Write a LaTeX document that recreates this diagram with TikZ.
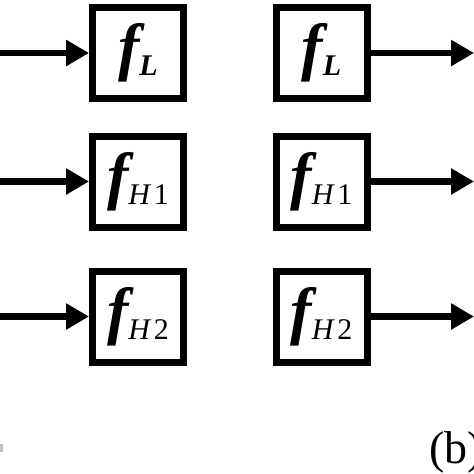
\documentclass[tikz,border=0pt]{standalone}
\usepackage{fontspec}
\setmainfont{Liberation Serif}
\usetikzlibrary{arrows.meta}
\tikzset{
  fbox/.style={draw, line width=7pt, minimum size=91pt, inner sep=0pt, outer sep=3.5pt, fill=white},
  flow/.style={line width=6.5pt, -{Triangle[length=23pt,width=25pt]}},
}
\newcommand{\fsym}{{\fontsize{64}{64}\selectfont\bfseries\itshape f}}
\newcommand{\fsub}[1]{\raisebox{-7pt}{\fontsize{30}{30}\selectfont #1}}
\begin{document}
\begin{tikzpicture}[x=1pt,y=-1pt]
\useasboundingbox (0,0) rectangle (474,474);
\clip (0,0) rectangle (474,474);
% boxes
\node[fbox] (aL) at (138,53) {\fsym\fsub{\bfseries\itshape L}};
\node[fbox] (a1) at (138,181.5) {\fsym\fsub{\itshape H\kern4pt\upshape 1}};
\node[fbox] (a2) at (138,316.5) {\fsym\fsub{\itshape H\kern4pt\upshape 2}};
\node[fbox] (bL) at (321.5,53) {\fsym\fsub{\bfseries\itshape L}};
\node[fbox] (b1) at (321.5,181.5) {\fsym\fsub{\itshape H\kern4pt\upshape 1}};
\node[fbox] (b2) at (321.5,316.5) {\fsym\fsub{\itshape H\kern4pt\upshape 2}};
% free ends
\coordinate (inL) at (0,53);
\coordinate (in1) at (0,181.5);
\coordinate (in2) at (0,316.5);
\coordinate (outL) at (474,53);
\coordinate (out1) at (474,181.5);
\coordinate (out2) at (474,316.5);
\draw[flow] (inL) -- (aL.west);
\draw[flow] (in1) -- (a1.west);
\draw[flow] (in2) -- (a2.west);
\draw[flow] (bL.east) -- (outL);
\draw[flow] (b1.east) -- (out1);
\draw[flow] (b2.east) -- (out2);
% label
\node[anchor=base west, inner sep=0pt, font=\fontsize{46}{46}\selectfont] (lab) at (429,463) {(b)};
\fill[black!25] (0,444) rectangle (3,452);
\end{tikzpicture}
\end{document}
